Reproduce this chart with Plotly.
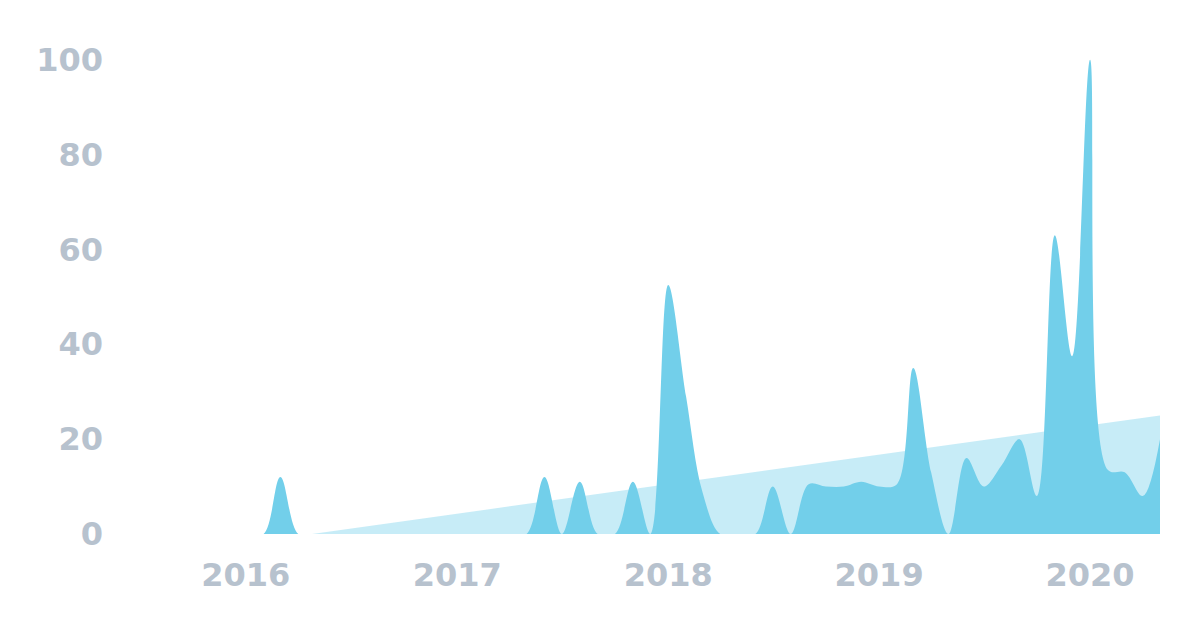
import plotly.graph_objects as go

# Monthly values (first of each month)
months = [
    "2015-06-01", "2015-07-01", "2015-08-01", "2015-09-01", "2015-10-01", "2015-11-01", "2015-12-01",
    "2016-01-01", "2016-02-01", "2016-03-01", "2016-04-01", "2016-05-01", "2016-06-01",
    "2016-07-01", "2016-08-01", "2016-09-01", "2016-10-01", "2016-11-01", "2016-12-01",
    "2017-01-01", "2017-02-01", "2017-03-01", "2017-04-01", "2017-05-01", "2017-06-01",
    "2017-07-01", "2017-08-01", "2017-09-01", "2017-10-01", "2017-11-01", "2017-12-01",
    "2018-01-01", "2018-02-01", "2018-03-01", "2018-04-01", "2018-05-01", "2018-06-01",
    "2018-07-01", "2018-08-01", "2018-09-01", "2018-10-01", "2018-11-01", "2018-12-01",
    "2019-01-01", "2019-02-01", "2019-03-01", "2019-04-01", "2019-05-01", "2019-06-01",
    "2019-07-01", "2019-08-01", "2019-09-01", "2019-10-01", "2019-11-01", "2019-12-01",
    "2020-01-01", "2020-02-01", "2020-03-01", "2020-04-01", "2020-05-01",
]
values = [
    0, 0, 0, 0, 0, 0, 0,
    0, 0, 12, 0, 0, 0,
    0, 0, 0, 0, 0, 0,
    0, 0, 0, 0, 0, 12,
    0, 11, 0, 0, 11, 0,
    52.5, 29, 9, 0, 0, 0,
    10, 0, 10.5, 10, 10, 11,
    10, 10.5, 35, 13, 0, 16,
    10, 14.5, 20, 8, 63, 37.5,
    100, 13.5, 13, 8, 20,
]

# Linear trend (start / end)
trend_dates = ["2016-04-25", "2020-05-01"]
trend_values = [0, 25]

x_range = ["2015-06-01", "2020-05-01"]
y_ticks = [0, 20, 40, 60, 80, 100]

main_color = "#72cfea"
trend_fill = "rgba(114,207,234,0.4)"
label_color = "#b7c2ce"

fig = go.Figure()
fig.add_trace(go.Scatter(
    x=trend_dates, y=trend_values, mode="lines",
    line=dict(width=0, color=trend_fill),
    fill="tozeroy", fillcolor=trend_fill, hoverinfo="skip",
))
fig.add_trace(go.Scatter(
    x=months, y=values, mode="lines",
    line=dict(width=0, color=main_color, shape="spline", smoothing=1),
    fill="tozeroy", fillcolor=main_color, hoverinfo="skip",
))

tickfont = dict(family="DejaVu Sans", size=32, color=label_color, weight="bold")
fig.update_layout(
    width=1192, height=620,
    margin=dict(l=114, r=40, t=28, b=94),
    paper_bgcolor="white", plot_bgcolor="white",
    showlegend=False,
    xaxis=dict(
        type="date", range=x_range, tick0="2016-01-01", dtick="M12", tickformat="%Y",
        showgrid=False, zeroline=False, showline=False, ticks="",
        tickfont=tickfont, ticklabelstandoff=19,
    ),
    yaxis=dict(
        range=[0, 105], tickvals=y_ticks,
        showgrid=False, zeroline=False, showline=False, ticks="",
        tickfont=tickfont, ticklabelstandoff=18,
    ),
)

fig.write_html("out.html")
